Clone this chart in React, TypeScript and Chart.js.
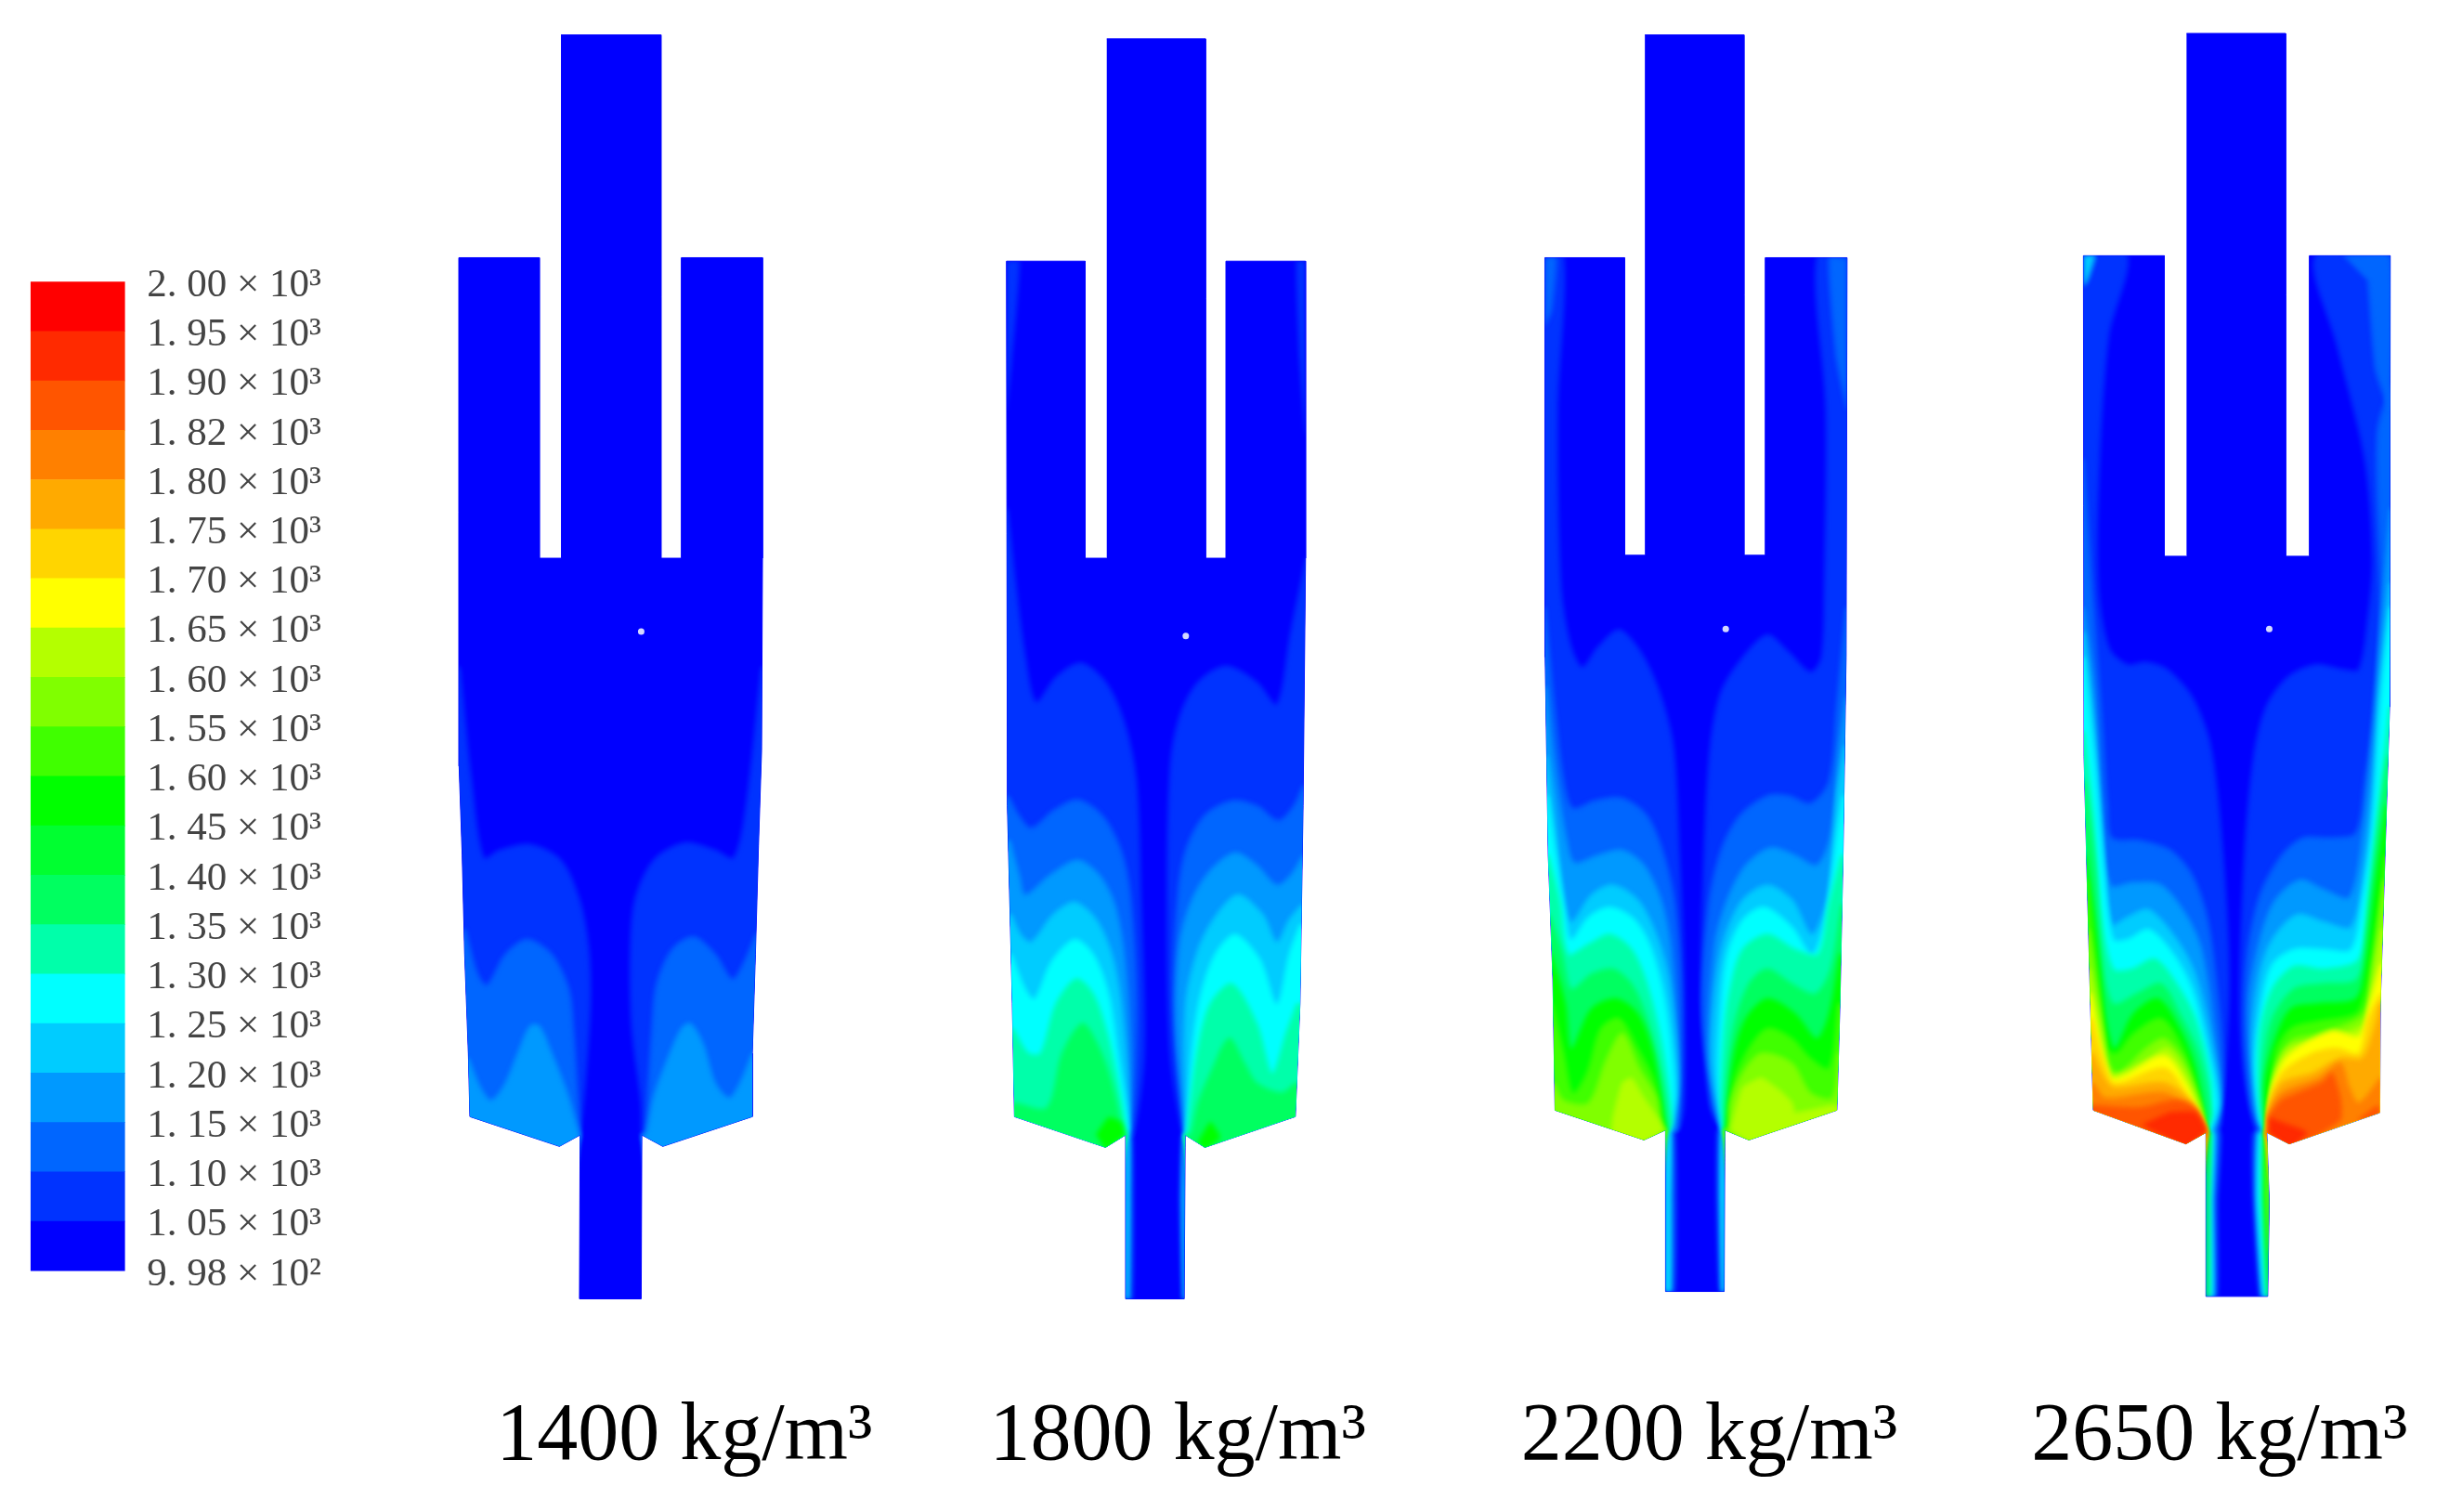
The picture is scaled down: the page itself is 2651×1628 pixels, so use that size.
import { useEffect, useRef } from 'react';
import { Chart, registerables } from 'chart.js';

type Pt = [number, number];
type Lobe = [number, Pt[]];

// legend, top to bottom
const legendLabels = [
  '2. 00 × 10³', '1. 95 × 10³', '1. 90 × 10³', '1. 82 × 10³', '1. 80 × 10³', '1. 75 × 10³', '1. 70 × 10³',
  '1. 65 × 10³', '1. 60 × 10³', '1. 55 × 10³', '1. 60 × 10³', '1. 45 × 10³', '1. 40 × 10³', '1. 35 × 10³',
  '1. 30 × 10³', '1. 25 × 10³', '1. 20 × 10³', '1. 15 × 10³', '1. 10 × 10³', '1. 05 × 10³', '9. 98 × 10²',
];
const levelColors = [
  '#ff0000', '#ff2a00', '#ff5500', '#ff8000', '#ffaa00', '#ffd500', '#ffff00', '#b4ff00', '#80ff00', '#40ff00',
  '#00ff00', '#00ff30', '#00ff60', '#00ffaa', '#00ffff', '#00ccff', '#0099ff', '#0066ff', '#0033ff', '#0000ff',
];
const densityLabels = ['1400 kg/m³', '1800 kg/m³', '2200 kg/m³', '2650 kg/m³'];
const densityLabelCentres = [735, 1268, 1842, 2393];

// device outlines and contour lines, in section coordinates
const outline1: Pt[] = [[400, -1057], [724, -1057], [724, 0], [790, 0], [790, -607], [1053, -607], [1053, 0], [1050, 390], [1040, 580], [1030, 800], [1020, 1000], [1020, 1128], [730, 1188], [662, 1165], [660, 1496], [460, 1496], [462, 1165], [395, 1188], [105, 1128], [100, 1000], [88, 800], [80, 600], [70, 420], [69, -607], [330, -607], [330, 0], [400, 0]];
const outline2: Pt[] = [[394, -1049], [714, -1049], [714, 0], [780, 0], [780, -600], [1038, -600], [1038, 0], [1030, 500], [1020, 900], [1005, 1128], [712, 1190], [648, 1165], [645, 1496], [455, 1496], [455, 1165], [390, 1190], [95, 1128], [88, 900], [72, 500], [69, -600], [324, -600], [324, 0], [394, 0]];
const outline3: Pt[] = [[363, -1057], [684, -1057], [684, -6], [753, -6], [753, -607], [1018, -607], [1015, 200], [1005, 600], [995, 900], [985, 1115], [700, 1175], [622, 1155], [620, 1481], [430, 1481], [430, 1155], [360, 1175], [72, 1115], [65, 850], [50, 600], [40, 200], [39, -607], [297, -607], [297, -6], [363, -6]];
const outline4: Pt[] = [[372, -1060], [693, -1060], [693, -4], [770, -4], [770, -611], [1032, -611], [1030, 300], [1015, 600], [1000, 900], [998, 1120], [705, 1183], [632, 1160], [640, 1300], [635, 1491], [435, 1491], [435, 1160], [370, 1183], [70, 1115], [50, 650], [40, 400], [38, -611], [300, -611], [300, -4], [372, -4]];

const lobesLeft1: Lobe[] = [
  [18, [[72, 220], [110, 450], [150, 605], [200, 590], [300, 578], [400, 610], [460, 690], [490, 790], [495, 900], [480, 1050], [462, 1165]]],
  [17, [[90, 750], [130, 840], [160, 862], [220, 800], [290, 770], [370, 800], [425, 870], [440, 950], [455, 1100], [462, 1165]]],
  [16, [[100, 1010], [140, 1070], [175, 1095], [220, 1060], [260, 1000], [300, 945], [330, 945], [370, 1000], [420, 1080], [460, 1165]]],
];
const lobesRight1: Lobe[] = [
  [18, [[1050, 220], [1000, 500], [960, 605], [900, 590], [800, 575], [700, 610], [640, 690], [625, 800], [630, 950], [660, 1100], [662, 1165]]],
  [17, [[1032, 760], [990, 820], [955, 850], [900, 800], [830, 765], [760, 790], [710, 860], [695, 950], [680, 1100], [672, 1165]]],
  [16, [[1020, 1000], [980, 1060], [945, 1090], [900, 1060], [860, 980], [820, 940], [790, 950], [740, 1020], [700, 1090], [675, 1165]]],
];
const patches1: Lobe[] = [];

const lobesLeft2: Lobe[] = [
  [18, [[72, -100], [100, 60], [130, 200], [165, 290], [230, 240], [310, 212], [390, 250], [450, 330], [490, 450], [505, 700], [515, 1000], [480, 1165]]],
  [17, [[75, 480], [110, 520], [150, 545], [220, 510], [300, 488], [380, 520], [440, 590], [470, 680], [490, 900], [475, 1165]]],
  [16, [[80, 570], [110, 640], [130, 680], [210, 640], [300, 610], [370, 640], [420, 700], [450, 800], [470, 1000], [465, 1165]]],
  [15, [[85, 720], [115, 760], [150, 775], [220, 720], [290, 695], [360, 730], [410, 800], [440, 900], [465, 1100], [460, 1165]]],
  [14, [[85, 800], [130, 870], [160, 890], [215, 815], [290, 770], [350, 800], [400, 880], [430, 1000], [465, 1150], [458, 1165]]],
  [13, [[90, 950], [140, 1000], [180, 1000], [230, 900], [295, 850], [350, 880], [395, 960], [430, 1060], [458, 1165]]],
  [12, [[95, 1100], [200, 1110], [250, 1000], [315, 940], [370, 990], [410, 1060], [450, 1165]]],
];
const lobesRight2: Lobe[] = [
  [18, [[1040, 0], [990, 150], [945, 295], [880, 250], [780, 218], [690, 250], [630, 320], [600, 420], [590, 700], [600, 1000], [640, 1165]]],
  [17, [[1030, 460], [1000, 500], [950, 530], [880, 500], [800, 490], [710, 520], [650, 590], [625, 680], [610, 900], [645, 1165]]],
  [16, [[1030, 600], [990, 640], [945, 660], [880, 620], [810, 595], [730, 630], [670, 690], [630, 780], [620, 950], [650, 1165]]],
  [15, [[1025, 700], [985, 730], [945, 775], [900, 720], [820, 680], [750, 720], [690, 790], [650, 900], [650, 1165]]],
  [14, [[1020, 740], [985, 800], [945, 900], [890, 810], [810, 760], [745, 800], [695, 890], [670, 1000], [655, 1150], [652, 1165]]],
  [13, [[1010, 900], [975, 960], [930, 1040], [880, 940], [800, 860], [730, 900], [690, 990], [665, 1100], [655, 1165]]],
  [12, [[1005, 1060], [960, 1080], [880, 1060], [840, 1020], [790, 970], [730, 1040], [690, 1100], [665, 1165]]],
];
const patches2: Lobe[] = [
  [18, [[69, -600], [110, -600], [85, -400], [69, -300]]],
  [18, [[1038, -600], [1010, -600], [1020, -400], [1038, -250]]],
  [17, [[455, 1165], [475, 1165], [478, 1300], [475, 1496], [455, 1496]]],
  [14, [[455, 1165], [464, 1165], [464, 1300], [462, 1496], [455, 1496]]],
  [17, [[648, 1165], [638, 1165], [632, 1300], [640, 1496], [648, 1496]]],
  [14, [[648, 1165], [645, 1165], [642, 1300], [645, 1496], [648, 1496]]],
  [10, [[360, 1165], [400, 1130], [440, 1140], [450, 1165], [390, 1195]]],
  [10, [[690, 1180], [730, 1140], [760, 1170], [712, 1195]]],
];

const lobesLeft3: Lobe[] = [
  [18, [[39, -607], [100, -607], [80, -300], [90, 50], [120, 170], [160, 220], [210, 180], [280, 145], [350, 190], [410, 270], [455, 380], [475, 600], [490, 850], [490, 1100], [470, 1155]]],
  [17, [[39, 100], [70, 300], [100, 450], [130, 505], [200, 490], [290, 485], [370, 520], [425, 600], [460, 700], [480, 900], [470, 1155]]],
  [16, [[42, 260], [70, 420], [110, 570], [135, 615], [210, 600], [290, 590], [360, 620], [415, 690], [445, 780], [470, 1000], [460, 1155]]],
  [15, [[45, 400], [70, 520], [100, 680], [125, 735], [190, 680], [260, 660], [340, 690], [400, 760], [440, 850], [470, 1050], [450, 1155]]],
  [14, [[48, 480], [75, 600], [105, 720], [125, 770], [180, 725], [250, 705], [330, 730], [385, 790], [430, 900], [460, 1080], [440, 1155]]],
  [13, [[50, 600], [85, 690], [115, 800], [180, 780], [250, 760], [320, 790], [370, 860], [420, 990], [450, 1140], [435, 1155]]],
  [12, [[55, 720], [95, 800], [125, 870], [190, 840], [260, 830], [320, 860], [370, 930], [420, 1060], [440, 1155]]],
  [10, [[60, 800], [105, 900], [125, 990], [190, 910], [270, 890], [340, 920], [390, 1000], [430, 1155]]],
  [9, [[62, 900], [100, 1000], [130, 1080], [175, 1040], [220, 950], [280, 930], [340, 990], [395, 1060], [425, 1155]]],
  [8, [[68, 1060], [100, 1095], [180, 1100], [240, 1010], [290, 960], [345, 1030], [400, 1090], [415, 1155]]],
];
const lobesRight3: Lobe[] = [
  [18, [[1018, -607], [920, -607], [950, -300], [945, 60], [935, 200], [900, 230], [830, 190], [760, 155], [680, 200], [610, 270], [575, 380], [555, 600], [545, 900], [560, 1000], [610, 1155]]],
  [17, [[1015, 100], [985, 300], [960, 450], [900, 495], [830, 480], [760, 480], [670, 520], [610, 590], [570, 700], [550, 900], [575, 1100], [610, 1155]]],
  [16, [[1015, 280], [990, 400], [965, 560], [920, 620], [850, 600], [770, 585], [690, 620], [630, 690], [590, 780], [570, 1000], [612, 1155]]],
  [15, [[1010, 380], [985, 480], [955, 680], [905, 760], [840, 690], [760, 660], [680, 690], [620, 770], [590, 880], [580, 1020], [612, 1155]]],
  [14, [[1005, 480], [985, 560], [950, 720], [905, 800], [840, 745], [750, 705], [680, 730], [630, 800], [610, 900], [600, 1050], [618, 1155]]],
  [13, [[1000, 600], [960, 700], [925, 800], [850, 790], [760, 760], [680, 790], [640, 870], [620, 960], [610, 1100], [622, 1155]]],
  [12, [[1000, 700], [965, 830], [915, 880], [840, 860], [760, 830], [700, 860], [650, 950], [625, 1080], [622, 1155]]],
  [10, [[995, 800], [960, 920], [920, 970], [850, 920], [760, 890], [690, 930], [650, 1010], [625, 1155]]],
  [9, [[990, 900], [960, 1030], [900, 1010], [840, 970], [760, 950], [700, 990], [650, 1060], [635, 1155]]],
  [8, [[990, 1000], [970, 1090], [900, 1080], [840, 1020], [740, 1000], [680, 1040], [640, 1100], [635, 1155]]],
];
const patches3: Lobe[] = [
  [17, [[39, -607], [75, -607], [60, -500], [39, -470]]],
  [17, [[1018, -607], [960, -607], [985, -400], [1018, -300]]],
  [17, [[430, 1155], [458, 1155], [462, 1300], [458, 1481], [430, 1481]]],
  [14, [[430, 1155], [445, 1155], [444, 1300], [444, 1481], [430, 1481]]],
  [17, [[622, 1155], [600, 1155], [598, 1300], [606, 1481], [622, 1481]]],
  [14, [[622, 1155], [612, 1155], [610, 1300], [615, 1481], [622, 1481]]],
  [7, [[255, 1165], [260, 1130], [290, 1060], [320, 1050], [360, 1090], [405, 1130], [425, 1155], [360, 1180]]],
  [7, [[640, 1155], [680, 1070], [740, 1050], [800, 1075], [840, 1100], [850, 1120], [985, 1105], [990, 1125], [700, 1180]]],
];

const lobesLeft4: Lobe[] = [
  [18, [[38, -611], [180, -611], [120, -450], [90, -200], [85, 50], [120, 180], [180, 215], [240, 210], [310, 225], [390, 280], [450, 380], [490, 600], [510, 850], [490, 1100], [475, 1160]]],
  [17, [[38, -200], [70, 100], [100, 350], [115, 500], [130, 565], [220, 570], [320, 590], [390, 640], [440, 730], [475, 900], [490, 1050], [470, 1160]]],
  [16, [[38, 100], [70, 250], [90, 480], [125, 660], [200, 655], [290, 660], [370, 720], [420, 790], [460, 950], [480, 1080], [460, 1160]]],
  [15, [[40, 150], [75, 350], [100, 560], [130, 740], [180, 725], [250, 710], [340, 770], [400, 840], [450, 970], [480, 1100], [450, 1160]]],
  [14, [[40, 200], [75, 420], [105, 640], [135, 770], [180, 770], [250, 750], [330, 800], [390, 870], [440, 990], [470, 1100], [445, 1160]]],
  [13, [[40, 350], [70, 520], [95, 720], [135, 830], [195, 830], [270, 810], [340, 860], [400, 930], [450, 1060], [440, 1160]]],
  [12, [[42, 450], [75, 620], [100, 820], [135, 900], [210, 880], [290, 860], [350, 920], [410, 1000], [450, 1120], [435, 1160]]],
  [10, [[45, 600], [80, 760], [110, 930], [140, 990], [200, 920], [280, 890], [350, 950], [400, 1030], [435, 1160]]],
  [9, [[50, 650], [85, 850], [115, 990], [145, 1000], [200, 960], [290, 930], [360, 990], [410, 1080], [435, 1160]]],
  [8, [[55, 750], [90, 900], [120, 1020], [150, 1040], [240, 990], [300, 970], [360, 1010], [415, 1100], [435, 1160]]],
  [7, [[58, 830], [95, 950], [125, 1040], [160, 1040], [250, 1010], [310, 990], [370, 1040], [420, 1120], [435, 1160]]],
  [6, [[62, 880], [100, 1000], [130, 1050], [170, 1045], [300, 1005], [370, 1060], [425, 1140], [435, 1160]]],
  [5, [[65, 930], [105, 1020], [140, 1060], [300, 1030], [370, 1080], [430, 1150], [435, 1160]]],
  [4, [[68, 1000], [105, 1050], [140, 1070], [300, 1060], [390, 1100], [430, 1155]]],
  [3, [[70, 1060], [110, 1090], [300, 1080], [400, 1120], [435, 1160]]],
  [2, [[60, 1105], [220, 1110], [340, 1095], [400, 1110], [435, 1160]]],
];
const lobesRight4: Lobe[] = [
  [18, [[1032, -611], [790, -611], [860, -430], [950, -200], [975, 0], [960, 120], [930, 225], [880, 225], [790, 215], [700, 240], [630, 300], [590, 400], [560, 600], [545, 900], [560, 1050], [600, 1160]]],
  [17, [[1032, -350], [990, -250], [1000, 100], [980, 300], [950, 450], [920, 555], [840, 565], [750, 565], [680, 600], [610, 680], [570, 800], [560, 950], [580, 1100], [610, 1160]]],
  [16, [[1032, -100], [1000, 150], [970, 400], [945, 550], [900, 685], [820, 670], [740, 650], [660, 690], [610, 770], [575, 900], [590, 1100], [620, 1160]]],
  [15, [[1032, 50], [1000, 250], [975, 480], [950, 620], [905, 745], [820, 735], [730, 720], [650, 770], [610, 840], [585, 980], [605, 1130], [625, 1160]]],
  [14, [[1032, 100], [1000, 300], [975, 540], [945, 680], [905, 790], [820, 790], [720, 790], [650, 820], [615, 900], [595, 1020], [610, 1130], [630, 1160]]],
  [13, [[1030, 300], [995, 500], [960, 690], [930, 810], [820, 830], [720, 825], [650, 870], [610, 960], [610, 1100], [630, 1160]]],
  [12, [[1025, 400], [990, 560], [955, 750], [925, 850], [810, 860], [720, 870], [650, 930], [620, 1030], [625, 1160]]],
  [10, [[1020, 500], [985, 650], [950, 830], [920, 890], [800, 900], [710, 910], [660, 970], [625, 1060], [632, 1160]]],
  [9, [[1015, 600], [980, 780], [950, 880], [920, 920], [800, 935], [710, 950], [660, 1000], [635, 1160]]],
  [8, [[1012, 650], [975, 820], [945, 920], [800, 960], [710, 975], [660, 1030], [632, 1160]]],
  [7, [[1005, 750], [970, 870], [945, 940], [800, 975], [700, 990], [650, 1060], [632, 1160]]],
  [6, [[1002, 820], [965, 900], [930, 965], [840, 955], [700, 1005], [650, 1070], [635, 1160]]],
  [5, [[1000, 880], [960, 930], [930, 1000], [860, 990], [780, 1000], [680, 1040], [640, 1100], [635, 1160]]],
  [4, [[998, 900], [980, 950], [940, 1010], [870, 1010], [780, 1040], [680, 1060], [640, 1110], [635, 1160]]],
  [3, [[1000, 1050], [930, 1100], [900, 1070], [870, 1020], [800, 1050], [680, 1080], [640, 1120], [635, 1160]]],
];
const patches4: Lobe[] = [
  [15, [[38, -611], [75, -611], [50, -560], [38, -550]]],
  [17, [[880, -611], [1032, -611], [1032, -300], [985, -380], [960, -560]]],
  [17, [[435, 1160], [480, 1160], [470, 1300], [470, 1491], [435, 1491]]],
  [14, [[435, 1160], [462, 1160], [455, 1300], [458, 1491], [435, 1491]]],
  [10, [[435, 1160], [448, 1160], [442, 1300], [442, 1491], [435, 1491]]],
  [17, [[640, 1160], [590, 1160], [590, 1300], [610, 1491], [640, 1491]]],
  [14, [[640, 1160], [605, 1160], [600, 1300], [620, 1491], [640, 1491]]],
  [10, [[640, 1160], [622, 1160], [620, 1300], [630, 1440], [635, 1491], [640, 1491]]],
  [8, [[640, 1160], [632, 1160], [633, 1300], [640, 1400]]],
  [2, [[640, 1125], [680, 1095], [810, 1060], [845, 1040], [870, 1090], [870, 1135], [705, 1195], [632, 1165]]],
  [2, [[998, 1108], [985, 1108], [930, 1135], [998, 1135]]],
  [1, [[230, 1145], [320, 1120], [400, 1120], [435, 1155], [370, 1190]]],
  [1, [[640, 1130], [680, 1140], [760, 1160], [705, 1190], [640, 1160]]],
];

const outlines = [outline1, outline2, outline3, outline4];
const lobesLeft = [lobesLeft1, lobesLeft2, lobesLeft3, lobesLeft4];
const lobesRight = [lobesRight1, lobesRight2, lobesRight3, lobesRight4];
const patches = [patches1, patches2, patches3, patches4];
const necks: [Pt, Pt][] = [
  [[462, 1165], [662, 1165]],
  [[455, 1165], [648, 1165]],
  [[430, 1155], [622, 1155]],
  [[435, 1160], [632, 1160]],
];
const holes: Pt[] = [[660, 148], [650, 157], [625, 143], [640, 143]];

const WIDTH = 2651;
const HEIGHT = 1628;
// the four sections share a vertical scale, each has its own horizontal one
const panelLeft = [468.5, 1060, 1651.5, 2233.5];
const X_UNITS = 3;
const Y_UNITS = 1.8667;
const Y_ORIGIN = 600;

const toPoints = (pts: Pt[]) => pts.map(([x, y]) => ({ x, y }));

// contours may overshoot the device, they are cut along its outline and softened
const outlineClip = {
  id: 'outlineClip',
  beforeDatasetDraw(chart: any, args: any) {
    const ds = chart.data.datasets[args.index];
    if (!ds.clipOutline) return;
    const xs = chart.scales[ds.xAxisID];
    const ys = chart.scales[ds.yAxisID];
    const { ctx } = chart;
    ctx.save();
    ctx.beginPath();
    ds.clipOutline.forEach(([x, y]: Pt, i: number) => {
      const px = xs.getPixelForValue(x);
      const py = ys.getPixelForValue(y);
      if (i === 0) ctx.moveTo(px, py);
      else ctx.lineTo(px, py);
    });
    ctx.closePath();
    ctx.clip();
    ctx.filter = 'blur(2.5px)';
  },
  afterDatasetDraw(chart: any, args: any) {
    if (chart.data.datasets[args.index].clipOutline) chart.ctx.restore();
  },
};

Chart.register(outlineClip, ...registerables);

function buildPanel(p: number) {
  const xAxisID = `x${p + 1}`;
  const shape = (pts: Pt[], color: string, tension: number, clipOutline?: Pt[]) => ({
    type: 'scatter',
    xAxisID,
    yAxisID: 'yContour',
    data: toPoints(pts),
    showLine: true,
    fill: 'shape',
    backgroundColor: color,
    borderColor: color,
    borderWidth: 1,
    pointRadius: 0,
    tension,
    clipOutline,
  });

  const [neckL, neckR] = necks[p];
  const closedLeft = (curve: Pt[]): Pt[] => [...curve, neckL, [neckL[0] - 65, 1320], [-60, 1320], [-60, curve[0][1]]];
  const closedRight = (curve: Pt[]): Pt[] => [...curve, neckR, [neckR[0] + 65, 1320], [1200, 1320], [1200, curve[0][1]]];

  const bands = [
    ...lobesLeft[p].map(([level, curve]) => ({ level, pts: closedLeft(curve), t: 0.3 })),
    ...lobesRight[p].map(([level, curve]) => ({ level, pts: closedRight(curve), t: 0.3 })),
    ...patches[p].map(([level, pts]) => ({ level, pts, t: 0.15 })),
  ].sort((a, b) => b.level - a.level);

  return [
    shape(outlines[p], levelColors[19], 0),
    ...bands.map((b) => shape(b.pts, levelColors[b.level], b.t, outlines[p])),
    {
      type: 'scatter',
      xAxisID,
      yAxisID: 'yContour',
      data: toPoints([holes[p]]),
      backgroundColor: '#d4d8ff',
      borderWidth: 0,
      pointRadius: 3.5,
    },
  ];
}

const panelScale = (left: number) => ({
  type: 'linear',
  display: false,
  min: -left * X_UNITS,
  max: (WIDTH - left) * X_UNITS,
});

// axes placed inside the plot must not push the plot area in
const noMargins = (axis: any) => {
  axis.paddingTop = 0;
  axis.paddingBottom = 0;
  axis.paddingLeft = 0;
  axis.paddingRight = 0;
};

export default function App(): React.JSX.Element {
  const canvasRef = useRef<HTMLCanvasElement>(null);

  useEffect(() => {
    if (!canvasRef.current) return;
    document.body.style.margin = '0';

    const legendBars = {
      type: 'bar',
      xAxisID: 'xPage',
      yAxisID: 'yLegend',
      data: levelColors.map((_, i) => ({ x: 80, y: [i, i + 1] })),
      backgroundColor: levelColors,
      barThickness: 101,
      grouped: false,
    };

    const contours = [0, 1, 2, 3].flatMap(buildPanel);

    const chart = new Chart(canvasRef.current, {
      data: {
        // chart.js paints the last dataset first
        datasets: [legendBars, ...contours].reverse() as any,
      },
      options: {
        animation: false,
        responsive: false,
        devicePixelRatio: 1,
        events: [],
        layout: { padding: 0 },
        plugins: { legend: { display: false }, tooltip: { enabled: false } },
        scales: {
          x1: panelScale(panelLeft[0]),
          x2: panelScale(panelLeft[1]),
          x3: panelScale(panelLeft[2]),
          x4: panelScale(panelLeft[3]),
          yContour: {
            type: 'linear',
            display: false,
            reverse: true,
            min: -Y_ORIGIN * Y_UNITS,
            max: (HEIGHT - Y_ORIGIN) * Y_UNITS,
          },
          xPage: {
            type: 'linear',
            offset: false,
            min: 0,
            max: WIDTH,
            position: { yPage: 1490 },
            grid: { display: false },
            border: { display: false },
            afterFit: noMargins,
            afterBuildTicks: (axis: any) => {
              axis.ticks = densityLabelCentres.map((value) => ({ value }));
            },
            ticks: {
              autoSkip: false,
              maxRotation: 0,
              minRotation: 0,
              padding: 0,
              color: '#000',
              font: { family: '"Liberation Serif"', size: 88 },
              callback: (_v: any, i: number) => densityLabels[i],
            },
          },
          yPage: { type: 'linear', display: false, reverse: true, min: 0, max: HEIGHT },
          yLegend: {
            type: 'linear',
            reverse: true,
            min: -301 / 53.5,
            max: (HEIGHT - 301) / 53.5,
            position: { xPage: 343 },
            grid: { display: false },
            border: { display: false },
            afterFit: noMargins,
            afterBuildTicks: (axis: any) => {
              axis.ticks = legendLabels.map((_, value) => ({ value }));
            },
            ticks: {
              autoSkip: false,
              padding: 0,
              labelOffset: 4,
              color: '#444',
              font: { family: '"Liberation Serif"', size: 43 },
              callback: (_v: any, i: number) => legendLabels[i],
            },
          },
        },
      } as any,
    });

    return () => {
      chart.destroy();
    };
  }, []);

  return (
    <div style={{ position: 'absolute', left: 0, top: 0, width: WIDTH, height: HEIGHT, background: '#fff' }}>
      <canvas ref={canvasRef} width={WIDTH} height={HEIGHT} />
    </div>
  );
}
